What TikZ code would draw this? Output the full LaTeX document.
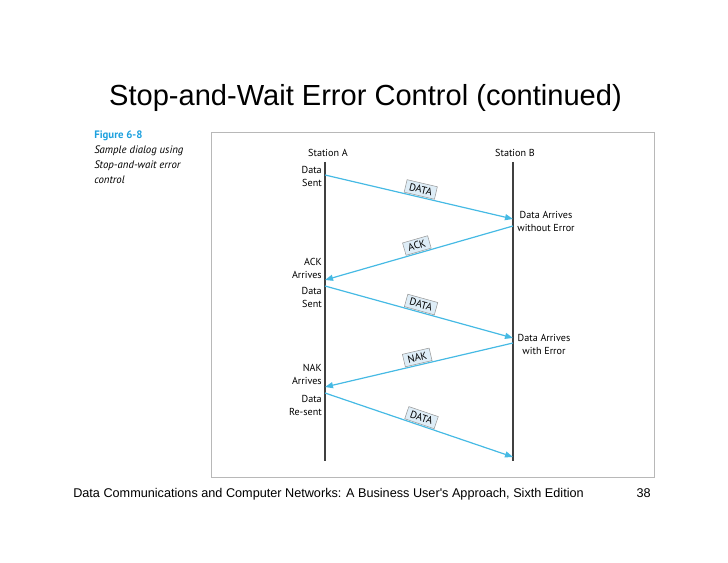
\documentclass[tikz,border=0pt]{standalone}
\usepackage{fontspec}
\setmainfont{Liberation Sans}
\newfontfamily\figfont{PT Sans}
\usetikzlibrary{arrows.meta}
\definecolor{msgblue}{RGB}{70,186,228}
\definecolor{capblue}{RGB}{28,160,222}
\definecolor{tagfill}{RGB}{222,237,247}
\tikzset{
  station/.style={draw=black!75, line width=1.2pt},
  msg/.style={draw=msgblue, line width=0.9pt, -{Triangle[length=6pt,width=4.5pt]}},
  tag/.style={draw=black!40, fill=tagfill, line width=0.4pt, inner xsep=3pt, inner ysep=2pt, font=\figfont\fontsize{7.8}{8}\selectfont, sloped, above=0.8pt, pos=0.5},
  event/.style={font=\figfont\fontsize{7.6}{9.75}\selectfont, inner sep=0pt},
}
\begin{document}
\begin{tikzpicture}[x=0.75pt,y=-0.75pt]
\useasboundingbox (0,0) rectangle (728,563);

\node[anchor=base, inner sep=0pt, font=\fontsize{21.8}{26}\selectfont] (title) at (365.5,106) {Stop-and-Wait Error Control (continued)};

\node[anchor=north west, align=left, inner sep=0pt, font=\figfont\fontsize{8.1}{11.25}\selectfont] (caption) at (94,131)
  {\textcolor{capblue}{\bfseries Figure 6-8}\\\textit{Sample dialog using}\\\textit{Stop-and-wait error}\\\textit{control}};

\draw[draw=black!28, line width=0.75pt] (211,133) rectangle (654,477);

\coordinate (A0) at (325,162);
\coordinate (A1) at (325,461);
\coordinate (B0) at (513,162);
\coordinate (B1) at (513,461);

\coordinate (a1) at (325,175);
\coordinate (b1) at (513,219);
\coordinate (b2) at (513,226);
\coordinate (a2) at (325,280);
\coordinate (a3) at (325,286);
\coordinate (b3) at (513,338);
\coordinate (b4) at (513,343);
\coordinate (a4) at (325,387);
\coordinate (a5) at (325,393);
\coordinate (b5) at (513,457);

\node[event] (staA) at (328,153) {Station A};
\node[event] (staB) at (515,153) {Station B};

\draw[station] (A0) to (A1);
\draw[station] (B0) to (B1);

\draw[msg] (a1) -- node[tag] {DATA} (b1);
\draw[msg] (b2) -- node[tag] {ACK} (a2);
\draw[msg] (a3) -- node[tag] {DATA} (b3);
\draw[msg] (b4) -- node[tag] {NAK} (a4);
\draw[msg] (a5) -- node[tag] {DATA} (b5);

\node[event, align=right, anchor=east] (sent1) at (322,176.5) {Data\\Sent};
\node[event, align=right, anchor=east] (ackin) at (322,268.5) {ACK\\Arrives};
\node[event, align=right, anchor=east] (sent2) at (322,297) {Data\\Sent};
\node[event, align=right, anchor=east] (nakin) at (322,374.5) {NAK\\Arrives};
\node[event, align=right, anchor=east] (resent) at (322,405.5) {Data\\Re-sent};
\node[event, align=center] (okin) at (546,221.5) {Data Arrives\\without Error};
\node[event, align=center] (errin) at (544,344) {Data Arrives\\with Error};

\node[anchor=base west, inner sep=0pt, font=\fontsize{9.5}{11}\selectfont] (footer) at (73,497) {Data Communications and Computer Networks: A Business User\textquotesingle s Approach, Sixth Edition};
\node[anchor=base east, inner sep=0pt, font=\fontsize{9.5}{11}\selectfont] (page) at (651,497) {38};
\end{tikzpicture}
\end{document}
